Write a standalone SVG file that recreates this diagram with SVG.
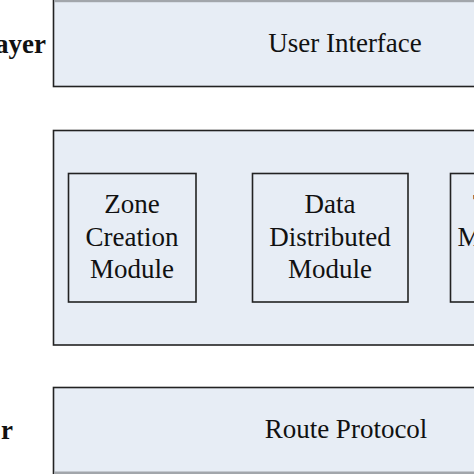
<svg xmlns="http://www.w3.org/2000/svg" width="474" height="474" viewBox="0 0 474 474">
<style>
.layer{fill:#e7edf5;stroke:#222;stroke-width:1.6}
.mod{fill:#e7edf5;stroke:#222;stroke-width:1.6}
.t{font-family:"Liberation Serif","Times New Roman",serif;font-size:27px;fill:#111;text-anchor:middle}
.lb{font-family:"Liberation Serif","Times New Roman",serif;font-size:27px;font-weight:bold;fill:#111;text-anchor:end}
.edge{fill:#a2a6ab}
</style>
<rect width="474" height="474" fill="#fff"/>
<g id="app-layer">
<rect class="layer" x="53.5" y="-4" width="430" height="90.5"/>
<rect class="edge" x="54" y="0" width="420" height="2.2"/>
<text class="lb" x="46" y="53">ayer</text>
<text class="t" x="345" y="52">User Interface</text>
</g>
<g id="middle-layer">
<rect class="layer" x="53.5" y="130.5" width="430" height="214.5"/>
</g>
<g id="zone-creation">
<rect class="mod" x="68.5" y="173.5" width="127.5" height="128.5"/>
<text class="t" x="132" y="213">Zone</text>
<text class="t" x="132" y="246">Creation</text>
<text class="t" x="132" y="278">Module</text>
</g>
<g id="data-distributed">
<rect class="mod" x="252.5" y="173.5" width="155.5" height="128.5"/>
<text class="t" x="330" y="213">Data</text>
<text class="t" x="330" y="246">Distributed</text>
<text class="t" x="330" y="278">Module</text>
</g>
<g id="third-module">
<rect class="mod" x="450.5" y="173.5" width="155.5" height="128.5"/>
<text class="t" x="473" y="213" style="text-anchor:start">Topology</text>
<text class="t" x="528" y="246">Management</text>
<text class="t" x="528" y="278">Module</text>
</g>
<g id="net-layer">
<rect class="layer" x="53.5" y="387.5" width="430" height="92"/>
<rect class="edge" x="54" y="471.5" width="420" height="2.5"/>
<text class="lb" x="13" y="439">r</text>
<text class="t" x="346" y="438">Route Protocol</text>
</g>
<g id="connectors"></g>
</svg>
